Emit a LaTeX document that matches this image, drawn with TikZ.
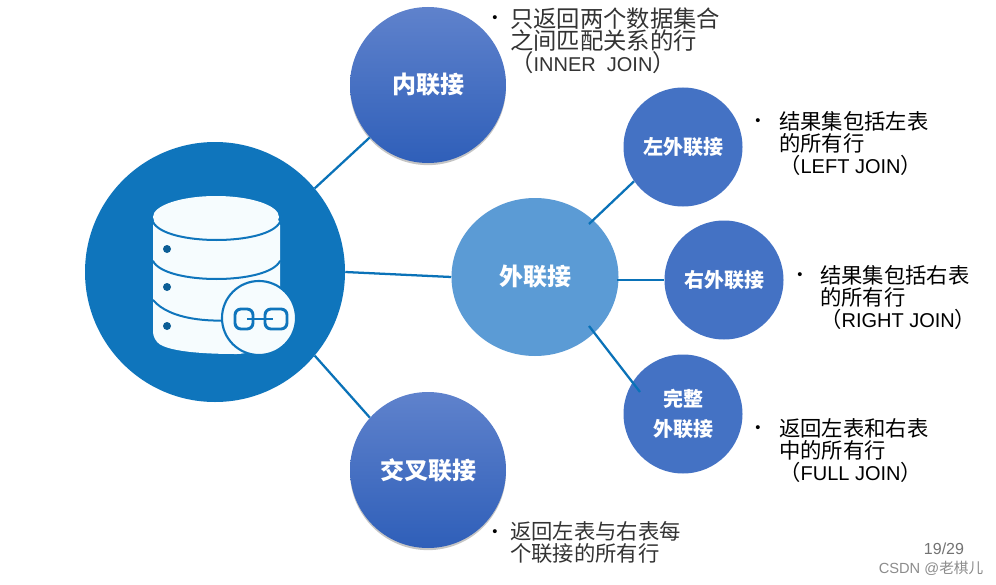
\documentclass[tikz,border=0pt]{standalone}
\usepackage{fontspec}
\setmainfont{Liberation Sans}
\newfontfamily\cjk{Noto Sans CJK SC}
\usetikzlibrary{shadows,calc,shapes.geometric}
\definecolor{mainblue}{HTML}{0F75BC}
\definecolor{linkblue}{HTML}{0A72B8}
\definecolor{subblue}{HTML}{4472C4}
\definecolor{outerblue}{HTML}{5B9BD5}
\definecolor{gradtop}{HTML}{5F82CC}
\definecolor{gradbot}{HTML}{2F5FB9}
\definecolor{iconwhite}{HTML}{F6FCFE}
\definecolor{txt}{HTML}{333333}
\tikzset{
  px/.style={x=0.75pt,y=-0.75pt},
  link/.style={draw=linkblue,line width=1.7pt},
  bigcirc/.style={circle,minimum size=117pt,inner sep=0pt,top color=gradtop,bottom color=gradbot,
    drop shadow={opacity=.45,shadow xshift=0pt,shadow yshift=-1.6pt},text=white,font=\fontsize{18}{22}\selectfont\cjk\bfseries},
  subcirc/.style={circle,minimum size=89.25pt,inner sep=0pt,fill=subblue,text=white,align=center,font=\fontsize{15}{22.5}\selectfont\cjk\bfseries},
  desc/.style={anchor=north west,inner sep=0pt,align=left,text=black},
  bul/.style={inner sep=0pt,text=black,font=\fontsize{11}{11}\selectfont},
  icon/.style={fill=iconwhite,draw=none},
  iconline/.style={draw=mainblue,line width=1.5pt,line cap=round},
}
\newcommand{\dtext}[1]{\fontsize{#1}{16.5}\selectfont\cjk}
\newcommand{\lat}[1]{{\fontspec{Liberation Sans}\fontsize{15}{16.5}\selectfont #1}}
\begin{document}
\begin{tikzpicture}[px]
\useasboundingbox (0,0) rectangle (996,585);
\fill[white] (0,0) rectangle (996,585);
% nodes
\node[circle,minimum size=195pt,inner sep=0pt,fill=mainblue] (main) at (215,272) {};
\node[bigcirc] (inner) at (428,85) {内联接};
\node[bigcirc] (cross) at (428,470) {交叉联接};
\node[ellipse,minimum width=125.25pt,minimum height=118.5pt,inner sep=0pt,fill=outerblue,text=white,font=\fontsize{18}{22}\selectfont\cjk\bfseries] (outer) at (535,277) {外联接};
\node[subcirc] (left) at (683,147) {左外联接};
\node[subcirc] (right) at (724,280) {右外联接};
\node[subcirc] (full) at (683,414) {完整\\外联接};
% connectors
\coordinate (o1) at (589,224);
\coordinate (o2) at (617,280);
\coordinate (o3) at (589,326);
\coordinate (f1) at (640,392);
\begin{scope}[on background layer/.style={}]
\draw[link] (main.40) -- (inner.222);
\draw[link] (main.east) -- (outer.west);
\draw[link] (main.-40) -- (cross.138);
\draw[link] (o1) -- (left.215);
\draw[link] (o2) -- (right.west);
\draw[link] (o3) -- (f1);
\end{scope}
% database icon
\begin{scope}
  \fill[icon,rounded corners=6pt] (153,217) -- (153,340) .. controls (175,354) and (225,354) .. (245,354) -- (280,340) -- (280,217) -- cycle;
  \fill[icon] (216,217) ellipse [x radius=63, y radius=21];
  \draw[iconline] (153,222) .. controls (165,246) and (268,246) .. (280,222);
  \draw[iconline] (153,261) .. controls (165,285) and (268,285) .. (280,261);
  \draw[iconline] (153,300) .. controls (170,320) and (210,322) .. (235,320);
  \fill[mainblue!80!black] (167,249) circle (4);
  \fill[mainblue!80!black] (167,287) circle (4);
  \fill[mainblue!80!black] (167,326) circle (4);
  \fill[icon,draw=mainblue,line width=1.6pt] (259,318) circle (37);
  \draw[mainblue,line width=2.2pt,rounded corners=4.5pt] (253,309) rectangle (235,329);
  \draw[mainblue,line width=2.2pt,rounded corners=4.5pt] (265,309) rectangle (287,329);
  \draw[mainblue,line width=1.8pt] (247,319) -- (273,319);
\end{scope}
% descriptions
\node[bul] (b1) at (495,19) {•};
\node[desc,font=\dtext{17.5},text=txt] (t1) at (510,8) {只返回两个数据集合\\之间匹配关系的行\\（\lat{INNER\ \ JOIN}）};
\node[bul] (b2) at (758,122) {•};
\node[desc,font=\dtext{16}] (t2) at (779,111) {结果集包括左表\\的所有行\\（\lat{LEFT JOIN}）};
\node[bul] (b3) at (800,276) {•};
\node[desc,font=\dtext{16}] (t3) at (820,265) {结果集包括右表\\的所有行\\（\lat{RIGHT JOIN}）};
\node[bul] (b4) at (758,429) {•};
\node[desc,font=\dtext{16}] (t4) at (779,418) {返回左表和右表\\中的所有行\\（\lat{FULL JOIN}）};
\node[bul] (b5) at (495,533) {•};
\node[desc,font=\dtext{16},text=txt] (t5) at (510,521) {返回左表与右表每\\个联接的所有行};
% footer
\node[inner sep=0pt,text=black!55,font=\fontsize{12}{12}\selectfont] (pg) at (944,549) {19/29};
\node[inner sep=0pt,text=black!45,font=\fontsize{11}{11}\selectfont] (wm) at (931,568) {CSDN @{\cjk 老棋儿}};
\end{tikzpicture}
\end{document}
